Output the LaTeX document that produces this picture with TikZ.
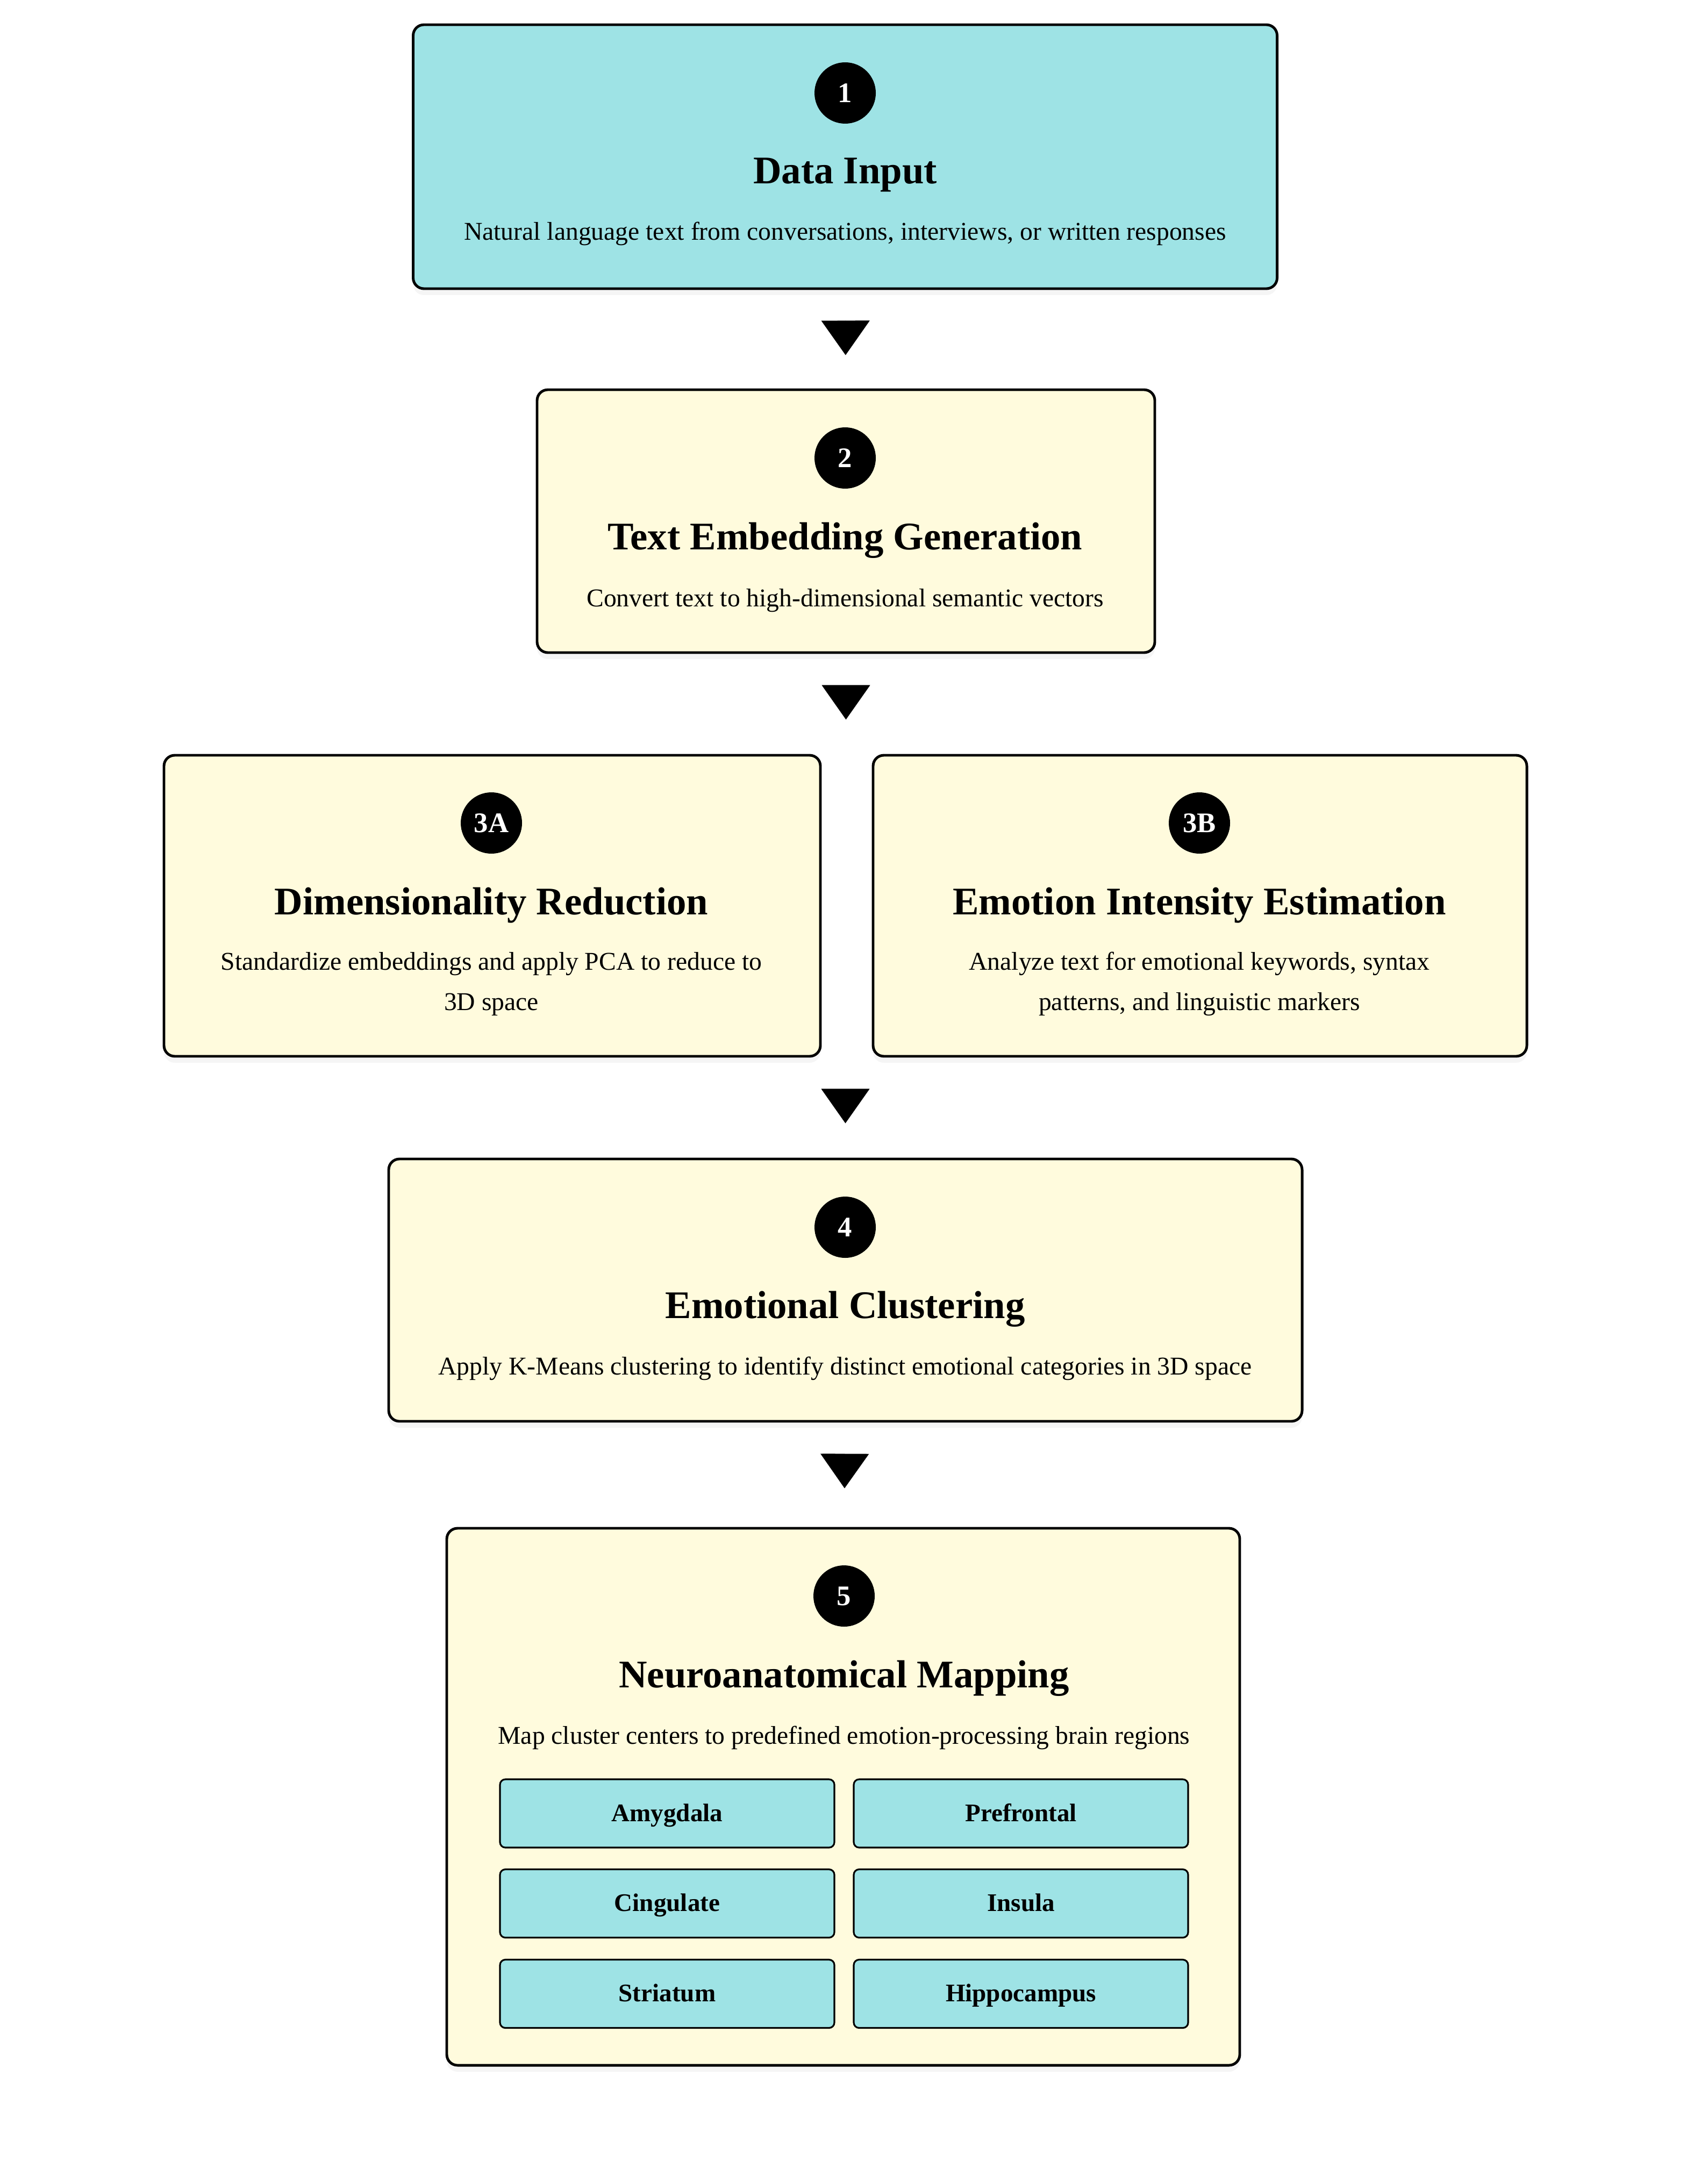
\documentclass[tikz,border=0pt]{standalone}
\usepackage{fontspec}
\setmainfont{Liberation Serif}
\usetikzlibrary{calc,scopes,arrows.meta,shadows}
\definecolor{stepcyan}{RGB}{158,227,229}
\definecolor{stepcream}{RGB}{255,251,221}

\begin{document}
\begin{tikzpicture}[
  stage/.style={draw=black, line width=1.4pt, rounded corners=0.2cm, fill=stepcream,
                drop shadow={opacity=0.08, shadow xshift=0pt, shadow yshift=-0.12cm},
                inner sep=0pt},
  badge/.style={circle, fill=black, text=white, minimum size=1.14cm, inner sep=0pt,
                font=\fontsize{15}{15}\selectfont\bfseries},
  ttl/.style={anchor=base, font=\fontsize{20.7}{24}\selectfont\bfseries},
  dsc/.style={anchor=base, font=\fontsize{13.55}{21.3}\selectfont, align=center},
  region/.style={draw=black, line width=0.9pt, rounded corners=0.1cm, fill=stepcyan,
                 minimum width=6.22cm, minimum height=1.27cm, inner sep=0pt,
                 text height=0.85em, text depth=0pt,
                 font=\fontsize{13.4}{14}\selectfont\bfseries},
  flow/.style={-{Triangle[width=0.9cm,length=0.64cm]}, line width=0.1pt,
               shorten <=0.62cm}
]
\useasboundingbox (0,0) rectangle (31.76,-40.48);

% stages
\path node[stage, fill=stepcyan, minimum width=16.07cm, minimum height=4.91cm] (d1) at (15.72,-2.915) {}
      node[stage, minimum width=11.49cm, minimum height=4.89cm] (d2) at (15.735,-9.695) {}
      node[stage, minimum width=12.21cm, minimum height=5.6cm]  (d3a) at (9.155,-16.85) {}
      node[stage, minimum width=12.16cm, minimum height=5.6cm]  (d3b) at (22.32,-16.85) {}
      node[stage, minimum width=16.99cm, minimum height=4.88cm] (d4) at (15.725,-24.0) {}
      node[stage, minimum width=14.75cm, minimum height=9.99cm] (d5) at (15.685,-33.425) {};

% badges, titles, descriptions
\path node[badge] (n1)  at (15.72,-1.73)  {1}
      node[ttl]   (t1)  at (15.72,-3.42)  {Data Input}
      node[dsc]   (s1)  at (15.72,-4.47)  {Natural language text from conversations, interviews, or written responses}
      node[badge] (n2)  at (15.72,-8.52)  {2}
      node[ttl]   (t2)  at (15.72,-10.22) {Text Embedding Generation}
      node[dsc]   (s2)  at (15.72,-11.28) {Convert text to high-dimensional semantic vectors}
      node[badge] (n3a) at (9.14,-15.31)  {3A}
      node[ttl]   (t3a) at (9.14,-17.01)  {Dimensionality Reduction}
      node[dsc]   (s3a) at (9.14,-18.79)  {Standardize embeddings and apply PCA to reduce to\\3D space}
      node[badge] (n3b) at (22.31,-15.31) {3B}
      node[ttl]   (t3b) at (22.31,-17.01) {Emotion Intensity Estimation}
      node[dsc]   (s3b) at (22.31,-18.79) {Analyze text for emotional keywords, syntax\\patterns, and linguistic markers}
      node[badge] (n4)  at (15.72,-22.83) {4}
      node[ttl]   (t4)  at (15.72,-24.52) {Emotional Clustering}
      node[dsc]   (s4)  at (15.72,-25.57) {Apply K-Means clustering to identify distinct emotional categories in 3D space}
      node[badge] (n5)  at (15.70,-29.69) {5}
      node[ttl]   (t5)  at (15.70,-31.39) {Neuroanatomical Mapping}
      node[dsc]   (s5)  at (15.70,-32.44) {Map cluster centers to predefined emotion-processing brain regions};

% brain regions
\path node[region] (r11) at (12.41,-33.735) {Amygdala}
      node[region] (r12) at (18.99,-33.735) {Prefrontal}
      node[region] (r21) at (12.41,-35.41)  {Cingulate}
      node[region] (r22) at (18.99,-35.41)  {Insula}
      node[region] (r31) at (12.41,-37.09)  {Striatum}
      node[region] (r32) at (18.99,-37.09)  {Hippocampus};

\coordinate (m3) at (d3a.south -| d4.north);

{[flow]
 \draw[shorten >=0.62cm] (d1) -- (d2);
 \draw[shorten >=0.64cm] (d2) -- (d2 |- d3a.north);
 \draw[shorten >=0.64cm] (m3) -- (d4);
 \draw[shorten >=0.72cm] (d4) -- (d5);
}
\end{tikzpicture}
\end{document}
